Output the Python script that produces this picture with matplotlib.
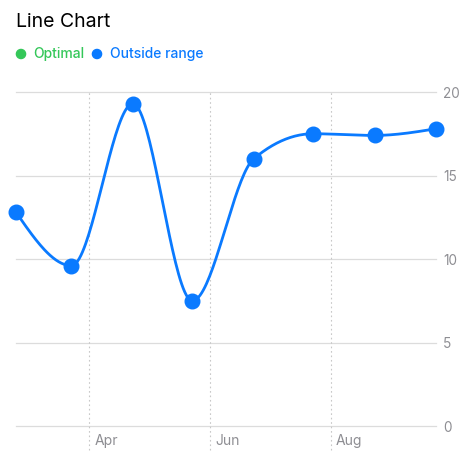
import matplotlib
matplotlib.use('Agg')
import matplotlib.pyplot as plt
import matplotlib.dates as mdates
import matplotlib.transforms as mtrans
import numpy as np

# data
dates = ['2023-02-23', '2023-03-23', '2023-04-23', '2023-05-23',
         '2023-06-23', '2023-07-23', '2023-08-23', '2023-09-23']
values = [12.8, 9.6, 19.3, 7.5, 16.0, 17.5, 17.4, 17.8]
month_ticks = ['2023-04-01', '2023-06-01', '2023-08-01']
y_ticks = [0, 5, 10, 15, 20]
legend_labels = ['Optimal', 'Outside range']
legend_colors = ['#34c759', '#0a7aff']

blue = '#0a7aff'
grey = '#8e8e93'
plt.rcParams['font.family'] = ['Inter', 'DejaVu Sans']


def monotone_x(x, y, n=40):
    # monotone cubic (same idea as d3 curveMonotoneX) for drawing the line
    x = np.asarray(x, float); y = np.asarray(y, float)
    h = np.diff(x); s = np.diff(y) / h
    t = np.zeros(len(x))
    for i in range(1, len(x) - 1):
        p = (s[i-1]*h[i] + s[i]*h[i-1]) / (h[i-1] + h[i])
        t[i] = (np.sign(s[i-1]) + np.sign(s[i])) * min(abs(s[i-1]), abs(s[i]), 0.5*abs(p))
    t[0] = (3*s[0] - t[1]) / 2
    t[-1] = (3*s[-1] - t[-2]) / 2
    xs, ys = [], []
    for i in range(len(x) - 1):
        u = np.linspace(0, 1, n)
        h00 = 2*u**3 - 3*u**2 + 1; h10 = u**3 - 2*u**2 + u
        h01 = -2*u**3 + 3*u**2; h11 = u**3 - u**2
        xs.append(x[i] + u*h[i])
        ys.append(h00*y[i] + h10*h[i]*t[i] + h01*y[i+1] + h11*h[i]*t[i+1])
    return np.concatenate(xs), np.concatenate(ys)


W, H = 474, 469
fig = plt.figure(figsize=(W/100, H/100), dpi=100)
ax = fig.add_axes([16/W, (H-426)/H, 420/W, 334/H])

xd = mdates.datestr2num(dates)
sx, sy = monotone_x(xd, values)
ax.plot(sx, sy, color=blue, lw=2.0, solid_capstyle='round', zorder=3, clip_on=False)
ax.plot(xd, values, 'o', color=blue, ms=10.5, zorder=4, clip_on=False)

ax.set_xlim(xd[0], xd[-1])
ax.set_ylim(0, 20)

# horizontal grid
for v in y_ticks:
    ax.axhline(v, color='#dcdcdc', lw=0.9, zorder=1, clip_on=False)

# dotted month lines reaching into the label area
mt = mdates.datestr2num(month_ticks)
for m in mt:
    ax.axvline(m, ymin=-0.072, ymax=1, color='#c8c8c8', lw=0.8,
               ls=(0, (1.5, 2.5)), zorder=1, clip_on=False)

ax.set_xticks(mt)
ax.xaxis.set_major_formatter(mdates.DateFormatter('%b'))
ax.tick_params(axis='x', length=0, pad=6, labelsize=10, labelcolor=grey)
off = mtrans.ScaledTranslation(5/100, 0, fig.dpi_scale_trans)
for lab in ax.get_xticklabels():
    lab.set_horizontalalignment('left')
    lab.set_transform(lab.get_transform() + off)

ax.yaxis.tick_right()
ax.set_yticks(y_ticks)
ax.tick_params(axis='y', length=0, pad=5, labelsize=9.8, labelcolor=grey)

for sp in ax.spines.values():
    sp.set_visible(False)

# title and legend
fig.text(16/W, 1 - 22/H, 'Line Chart', fontsize=14, color='black', va='center', ha='left')
dot_x = [21, 97]
text_x = [33, 110]
for lbl, col, dx, tx in zip(legend_labels, legend_colors, dot_x, text_x):
    fig.patches.append(plt.Circle((dx/W, 1 - 54/H), 4.6/W, color=col,
                                  transform=fig.transFigure, figure=fig))
    fig.text(tx/W, 1 - 54/H, lbl, fontsize=10, color=col, fontweight='medium',
             va='center', ha='left')

fig.savefig('out.png', dpi=100)
